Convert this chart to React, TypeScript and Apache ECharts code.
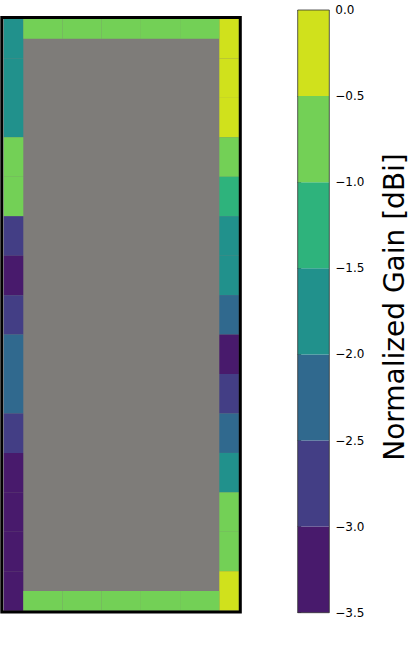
import React, { useEffect, useRef } from "react";
import * as echarts from "echarts";

// Bin edges of the discrete colour scale (dBi) and viridis colours for each bin
const binEdges = [-3.5, -3.0, -2.5, -2.0, -1.5, -1.0, -0.5, 0.0];
const binColors = ["#481a6c", "#433e85", "#30698e", "#21918c", "#2eb37c", "#73d056", "#d0e11c"];
const tickValues = [-3.5, -3.0, -2.5, -2.0, -1.5, -1.0, -0.5, 0.0];

// Normalized gain along the perimeter (top to bottom / left to right)
const leftColumn = [-1.75, -1.8, -1.7, -0.8, -0.7, -2.8, -3.3, -2.7, -2.2, -2.3, -2.9, -3.2, -3.3, -3.4, -3.3];
const rightColumn = [-0.2, -0.1, -0.3, -0.7, -1.3, -1.8, -1.7, -2.3, -3.2, -2.7, -2.2, -1.8, -0.8, -0.6, -0.2];
const topRow = [-0.7, -0.8, -0.7, -0.6, -0.7];
const bottomRow = [-0.8, -0.7, -0.7, -0.8, -0.6];

const GRAY = "#7e7c79";

function colorFor(v: number): string {
  const step = binEdges[1] - binEdges[0];
  let idx = Math.floor((v - binEdges[0]) / step);
  if (idx < 0) idx = 0;
  if (idx > binColors.length - 1) idx = binColors.length - 1;
  return binColors[idx];
}

function buildCells() {
  const cells: number[][] = [];
  const nCols = topRow.length * 2 + 2; // 12 units wide
  leftColumn.forEach((v, i) => cells.push([0, 1, 2 * i, 2 * i + 2, v]));
  rightColumn.forEach((v, i) => cells.push([nCols - 1, nCols, 2 * i, 2 * i + 2, v]));
  const nRows = leftColumn.length * 2;
  topRow.forEach((v, j) => cells.push([1 + 2 * j, 3 + 2 * j, 0, 1, v]));
  bottomRow.forEach((v, j) => cells.push([1 + 2 * j, 3 + 2 * j, nRows - 1, nRows, v]));
  return cells;
}

function rectItem(params: any, api: any) {
  const x0 = api.value(0);
  const x1 = api.value(1);
  const y0 = api.value(2);
  const y1 = api.value(3);
  const v = api.value(4);
  const p0 = api.coord([x0, y0]);
  const p1 = api.coord([x1, y1]);
  return {
    type: "rect",
    shape: {
      x: Math.min(p0[0], p1[0]),
      y: Math.min(p0[1], p1[1]),
      width: Math.abs(p1[0] - p0[0]),
      height: Math.abs(p1[1] - p0[1]),
    },
    style: { fill: colorFor(v) },
  };
}

export default function App() {
  const ref = useRef<HTMLDivElement>(null);

  useEffect(() => {
    if (!ref.current) return;
    const chart = echarts.init(ref.current, null, { renderer: "svg" });
    const cells = buildCells();
    const nCols = topRow.length * 2 + 2;
    const nRows = leftColumn.length * 2;
    const barData = binColors.map((_, i) => [0, 1, binEdges[i], binEdges[i + 1], (binEdges[i] + binEdges[i + 1]) / 2]);
    const fmt = (v: number) => (v < 0 ? "\u2212" : "") + Math.abs(v).toFixed(1);

    chart.setOption({
      animation: false,
      backgroundColor: "#ffffff",
      grid: [
        { left: 3.7, top: 19, width: 235.2, height: 591.7, show: true, backgroundColor: GRAY, borderWidth: 0 },
        { left: 297.7, top: 10, width: 31.6, height: 602.7, show: false },
      ],
      xAxis: [
        { type: "value", gridIndex: 0, min: 0, max: nCols, show: false },
        { type: "value", gridIndex: 1, min: 0, max: 1, show: false },
      ],
      yAxis: [
        { type: "value", gridIndex: 0, min: 0, max: nRows, inverse: true, show: false },
        {
          type: "value",
          gridIndex: 1,
          min: tickValues[0],
          max: tickValues[tickValues.length - 1],
          interval: 0.5,
          position: "right",
          axisLine: { show: false },
          splitLine: { show: false },
          axisTick: { show: true, length: 3.5, lineStyle: { color: "#000", width: 0.8 } },
          axisLabel: {
            show: true,
            margin: 6,
            fontSize: 12,
            color: "#000",
            fontFamily: "DejaVu Sans",
            formatter: fmt,
            showMinLabel: true,
            showMaxLabel: true,
          },
        },
      ],
      series: [
        {
          type: "custom",
          xAxisIndex: 0,
          yAxisIndex: 0,
          renderItem: rectItem,
          encode: { x: [0, 1], y: [2, 3] },
          data: cells,
          silent: true,
        },
        {
          type: "custom",
          xAxisIndex: 1,
          yAxisIndex: 1,
          renderItem: rectItem,
          encode: { x: [0, 1], y: [2, 3] },
          data: barData,
          silent: true,
        },
      ],
      graphic: [
        {
          type: "rect",
          z: 100,
          silent: true,
          shape: { x: 1.8, y: 17.5, width: 238.5, height: 594.5 },
          style: { fill: "none", stroke: "#000", lineWidth: 3 },
        },
        {
          type: "rect",
          z: 100,
          silent: true,
          shape: { x: 297.7, y: 10, width: 31.6, height: 602.7 },
          style: { fill: "none", stroke: "#333", lineWidth: 0.8 },
        },
        {
          type: "text",
          z: 100,
          silent: true,
          x: 394.5,
          y: 307,
          rotation: Math.PI / 2,
          style: {
            text: "Normalized Gain [dBi]",
            fontSize: 28,
            fontFamily: "DejaVu Sans",
            fill: "#000",
            align: "center",
            verticalAlign: "middle",
          },
        },
      ],
    });
    return () => chart.dispose();
  }, []);

  return (
    <div
      ref={ref}
      style={{ position: "fixed", left: 0, top: 0, width: 411, height: 666, background: "#fff" }}
    />
  );
}
